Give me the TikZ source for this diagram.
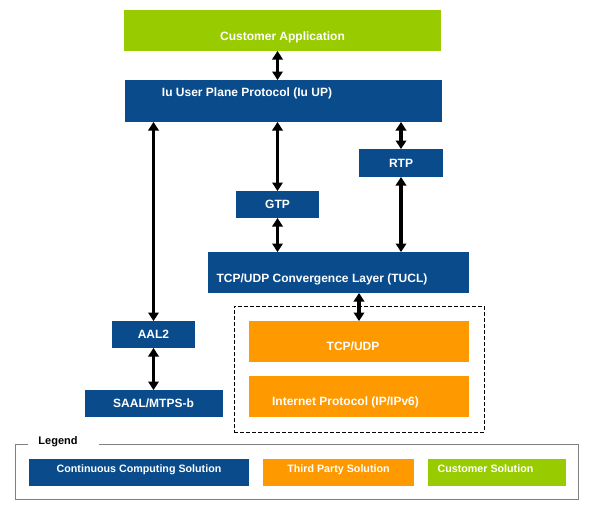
\documentclass[tikz,border=0pt]{standalone}
\usepackage{fontspec}
\setmainfont{Liberation Sans}
\usetikzlibrary{positioning,fit,arrows.meta}
\definecolor{ccblue}{RGB}{10,75,140}
\definecolor{tporange}{RGB}{255,153,0}
\definecolor{custgreen}{RGB}{153,204,0}
\definecolor{frameGray}{RGB}{128,128,128}

\begin{document}
\begin{tikzpicture}[x=1pt, y=1pt,
    box/.style={rectangle, draw=none, outer sep=0pt, inner sep=0pt, text=white,
      font=\fontsize{12}{14}\selectfont\bfseries, text height=8.6pt, text depth=0pt},
    cc/.style={box, fill=ccblue},
    tp/.style={box, fill=tporange},
    cust/.style={box, fill=custgreen},
    lbl/.style={text=white, inner sep=0pt, font=\fontsize{12}{14}\selectfont\bfseries,
      text height=8.6pt, text depth=0pt},
    keylbl/.style={lbl, font=\fontsize{10.7}{13}\selectfont\bfseries, text height=7.7pt},
    key/.style={minimum height=27pt},
    link/.style={{Triangle[width=10.5pt,length=8.5pt]}-{Triangle[width=10.5pt,length=8.5pt]},
      line width=3.3pt, black},
    legline/.style={draw=frameGray, line width=1pt}
  ]
    \useasboundingbox (0,0) rectangle (593,-509);

    \node[cust, minimum width=317pt, minimum height=41pt,
      label={[lbl, yshift=-5.5pt]center:Customer Application}] (ca) at (282.5,-30.5) {};
    \node[cc, minimum width=317pt, minimum height=42pt, below=29pt of ca, xshift=1pt,
      label={[lbl, xshift=-36.5pt, yshift=9pt]center:Iu User Plane Protocol (Iu UP)}] (iuup) {};
    \node[cc, minimum width=84pt, minimum height=28pt, below=27pt of iuup.south east,
      anchor=north east, xshift=1pt] (rtp) {RTP};
    \node[cc, minimum width=83pt, minimum height=27pt, below=69pt of iuup.south, xshift=-6pt] (gtp) {GTP};
    \node[cc, minimum width=261pt, minimum height=41pt, below=34pt of gtp.south west,
      anchor=north west, xshift=-28pt,
      label={[lbl, xshift=-16.5pt, yshift=-5.5pt]center:TCP/UDP Convergence Layer (TUCL)}] (tucl) {};
    \node[tp, minimum width=220pt, minimum height=41pt, below=28pt of tucl.south east,
      anchor=north east, label={[lbl, xshift=-6pt, yshift=-4.5pt]center:TCP/UDP}] (tcpudp) {};
    \node[tp, minimum width=220pt, minimum height=41pt, below=14pt of tcpudp,
      label={[lbl, xshift=-13.5pt, yshift=-4.5pt]center:Internet Protocol (IP/IPv6)}] (ip) {};
    \node[cc, minimum width=83pt, minimum height=27pt, left=54pt of tcpudp.north west,
      anchor=north east] (aal2) {AAL2};
    \node[cc, minimum width=138pt, minimum height=27pt, below=42pt of aal2] (saal) {SAAL/MTPS-b};

    \node[draw, line width=1pt, dash pattern=on 4pt off 2pt, inner sep=15pt,
      fit=(tcpudp)(ip)] (tpstack) {};

    \draw[link] (ca.south -| gtp) -- (iuup.north -| gtp);
    \draw[link] (iuup.south -| aal2) -- (aal2.north);
    \draw[link] (iuup.south -| gtp) -- (gtp.north);
    \draw[link] (iuup.south -| rtp) -- (rtp.north);
    \draw[link] (rtp.south) -- (tucl.north -| rtp);
    \draw[link] (gtp.south) -- (tucl.north -| gtp);
    \draw[link] (tucl.south -| tcpudp) -- (tcpudp.north);
    \draw[link] (aal2.south) -- (saal.north -| aal2);

    \node[minimum width=563pt, minimum height=55pt, inner sep=0pt, outer sep=0pt] (legframe) at (296.5,-471.5) {};
    \node[inner sep=0pt, font=\fontsize{11}{13}\selectfont\bfseries] (legtitle) at (58,-442) {Legend};
    \draw[legline] ([xshift=-10pt]legtitle.west |- legframe.north) -| (legframe.south west)
      -| (legframe.north east) -- ([xshift=21pt]legtitle.east |- legframe.north);

    \node[cc, key, minimum width=220pt,
      label={[keylbl, yshift=4pt]center:Continuous Computing Solution}] (keycc) at (139,-472.5) {};
    \node[tp, key, minimum width=151pt, right=14pt of keycc,
      label={[keylbl, yshift=4pt]center:Third Party Solution}] (keytp) {};
    \node[cust, key, minimum width=138pt, right=14pt of keytp,
      label={[keylbl, xshift=-11.5pt, yshift=4pt]center:Customer Solution}] (keycust) {};
  \end{tikzpicture}
\end{document}
